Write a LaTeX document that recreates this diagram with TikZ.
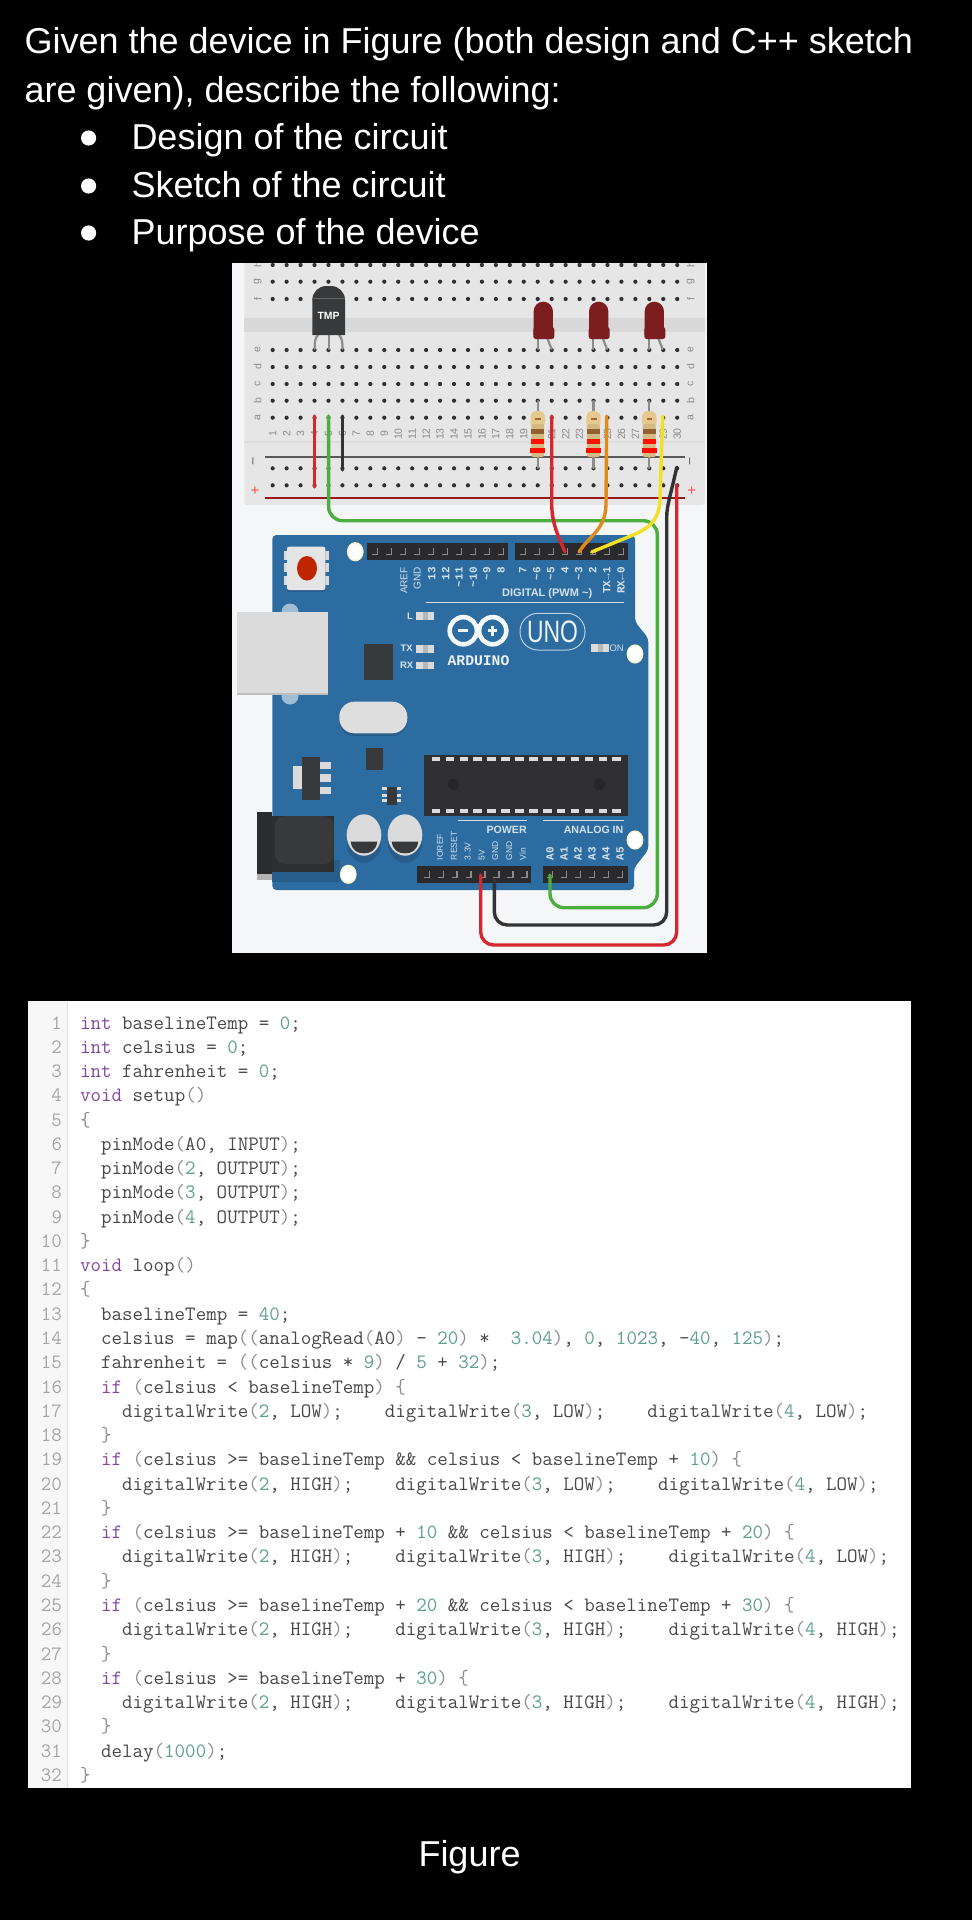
\documentclass[tikz,border=0pt]{standalone}
\usepackage{fontspec}
\setmainfont{Liberation Sans}
\newfontfamily\bdmono{Liberation Mono}
\newcommand\fsz[1]{\fontsize{#1}{#1}\selectfont}
\definecolor{imgbg}{HTML}{F5F6F8}
\definecolor{bbgray}{HTML}{E6E6E6}
\definecolor{bbgroove}{HTML}{D8D8D8}
\definecolor{hole}{HTML}{2F2F2F}
\definecolor{bblab}{HTML}{8A8A8A}
\definecolor{wred}{HTML}{D4272E}
\definecolor{wgreen}{HTML}{4CAE3F}
\definecolor{wblack}{HTML}{333335}
\definecolor{worange}{HTML}{E08A1E}
\definecolor{wyellow}{HTML}{F2E024}
\definecolor{board}{HTML}{2D6CA0}
\definecolor{boarddk}{HTML}{275D8A}
\definecolor{bdtext}{HTML}{D3E1EC}
\definecolor{chip}{HTML}{38393B}
\definecolor{hdr}{HTML}{2A2A2C}
\definecolor{silver}{HTML}{DBDBDB}
\definecolor{ledred}{HTML}{7C1D20}
\definecolor{restan}{HTML}{E6C98E}
\definecolor{codetx}{HTML}{484848}
\definecolor{codekw}{HTML}{85459F}
\definecolor{codenum}{HTML}{5E9E8E}
\definecolor{codegy}{HTML}{8C8C8C}
\definecolor{codeln}{HTML}{A6A6A6}
\definecolor{gutter}{HTML}{F7F7F7}
\newcommand\ckw[1]{{\color{codekw}#1}}
\newcommand\cnum[1]{{\color{codenum}#1}}
\newcommand\gy[1]{{\color{codegy}#1}}
\tikzset{
  x=1pt,y=-1pt,
  every node/.style={inner sep=0pt,outer sep=0pt},
  headline/.style={anchor=base west,text=white,font=\fsz{36}},
  codetext/.style={anchor=base west,text=codetx,font=\ttfamily\fsz{20.4}},
  linenum/.style={anchor=base east,text=codeln,font=\ttfamily\fsz{20.4}},
  bblabel/.style={rotate=90,text=bblab,font=\fsz{10.5}},
  pinlab/.style={rotate=90,anchor=east,text=bdtext,font=\bdmono\bfseries\fsz{11}},
  pinlabthin/.style={rotate=90,anchor=east,text=bdtext,font=\fsz{10}},
  pwrlab/.style={rotate=90,anchor=west,text=bdtext,font=\fsz{8.5}},
  anlab/.style={rotate=90,anchor=west,text=bdtext,font=\bdmono\bfseries\fsz{11}},
  bdhead/.style={text=bdtext,font=\bfseries\fsz{11}},
  wire/.style={line width=3.4pt,line cap=round},
  leg/.style={draw=black!45,line width=2.2pt,line cap=round},
  pinmark/.style={draw=black!45!white,line width=1.3pt},
}
\newcommand\clin[3]{%
  \node[codetext] (line#1) at ({80.2+10.5*#2},{1029+24.27*(#1-1)}) {#3};
  \node[linenum] (num#1) at (62,{1029+24.27*(#1-1)}) {#1};}
\begin{document}
\begin{tikzpicture}
\useasboundingbox (0,0) rectangle (972,1920);
\fill[black] (0,0) rectangle (972,1920);
% heading
\node[headline] (h1) at (24.5,53.7) {Given the device in Figure (both design and C++ sketch};
\node[headline] (h2) at (24.5,102) {are given), describe the following:};
\node[headline] (b1) at (131.5,149) {Design of the circuit};
\node[headline] (b2) at (131.5,197) {Sketch of the circuit};
\node[headline] (b3) at (131.5,244) {Purpose of the device};
\foreach \yy in {138,186,233} \fill[white] (88.6,\yy) circle (7.6);
% circuit picture
\begin{scope}
\clip (232,263) rectangle (707,953);
\fill[imgbg] (232,263) rectangle (707,953);
% breadboard
\fill[bbgray,rounded corners=3] (244.3,250) rectangle (705,505);
\fill[bbgroove] (244.3,318) rectangle (705,332);
\fill[bbgroove!60!bbgray] (244.3,441) rectangle (705,443);
\foreach \yy in {265,281.7,299,350,367,384,400.7,417.7,468.3,485.3}
  \foreach \cc in {0,...,29}
    \fill[hole] ({272.67+13.95*\cc},\yy) circle (2.1);
\foreach \xx in {257.7,690.7}
  \foreach \yy/\tt in {265/h,281.7/g,299/f,350/e,367/d,384/c,400.7/b,417.7/a}
    \node[bblabel] at (\xx,\yy) {\tt};
\foreach \nn in {1,...,30}
  \node[bblabel] (col\nn) at ({272.67+13.95*(\nn-1)},434) {\nn};
\draw[black!65,line width=2pt] (265,457) -- (685,457);
\draw[red!55!black!90,line width=2pt] (265,497.7) -- (685,497.7);
\foreach \xx in {255,691.7} {
  \node[rotate=90,text=black!60,font=\fsz{14}] at (\xx,461) {−};
  \node[text=red!70!white,font=\fsz{15}] at (\xx,491) {+};
}
% TMP sensor
\draw[leg] (318,335) .. controls (315,338) and (314.6,342) .. (314.6,349);
\draw[leg] (328.6,335) -- (328.6,349);
\draw[leg] (339,335) .. controls (342,338) and (342.6,342) .. (342.6,349);
\fill[chip] (312.3,335) [rounded corners=14] -- (312.3,286) -- (345,286) [sharp corners] -- (345,335) -- cycle;
\draw[black!60,line width=.6pt] (312.3,298.3) -- (345,298.3);
\node[text=white,font=\bfseries\fsz{10.5}] (tmp) at (328.6,316) {TMP};
% LEDs
\foreach \cx in {543.3,598.7,654.3} {
  \begin{scope}[shift={(\cx,0)}]
  \draw[leg] (-5.6,337) -- (-5.6,349);
  \draw[leg] (3.5,337) -- (8.3,349);
  \fill[ledred] (-9.6,335) [rounded corners=9.5] -- (-9.6,301.7) -- (9.6,301.7) [sharp corners] -- (9.6,335) -- cycle;
  \fill[ledred,rounded corners=2.5] (-10,327) rectangle (11,339);
  \end{scope}
}
% resistors
\foreach \cx in {537.7,593.5,649.3} {
  \begin{scope}[shift={(\cx,0)}]
  \draw[leg] (0,401) -- (0,468);
  \fill[restan,rounded corners=6] (-7.2,411) rectangle (7.2,428);
  \fill[restan!92!black,rounded corners=2] (-6.4,424) rectangle (6.4,457);
  \fill[brown!80!black!90!orange] (-2.5,418.2) rectangle (3,420);
  \fill[brown!75!black] (-6.4,429.3) rectangle (6.4,434.3);
  \fill[red!85!orange] (-6.4,438.5) rectangle (6.4,443.5);
  \fill[red!90!orange] (-7.4,447.5) rectangle (7.4,452.7);
  \end{scope}
}
% named wire ends
\coordinate (c4a) at (314.5,416);
\coordinate (c4p) at (314.5,487);
\coordinate (c5a) at (328.6,416);
\coordinate (c6a) at (342.7,416);
\coordinate (c6m) at (342.7,470);
\coordinate (c21a) at (551.7,416);
\coordinate (c25a) at (606.7,416);
\coordinate (c29a) at (662.7,416);
\coordinate (railm) at (676.7,467.3);
\coordinate (railp) at (676.7,485);
\coordinate (pin4) at (565,552);
\coordinate (pin3) at (579,552);
\coordinate (pin2) at (591.7,552);
\coordinate (pinA0) at (550,875);
\coordinate (pinGND) at (494.3,880);
\coordinate (pin5V) at (480.7,875);
% Arduino board
\fill[board,rounded corners=4] (272.3,535) -- (635,535) -- (635,621.7) -- (648.3,638.3) -- (648.3,850) -- (634,868) -- (634,890) -- (272.3,890) -- cycle;
\foreach \xx/\yy in {290/612,290/696}
  \fill[board!45!white] (\xx,\yy) circle (8.5);
% reset button
\fill[silver] (283.5,551) rectangle (328.5,560);
\fill[silver] (283.5,563) rectangle (328.5,572);
\fill[silver] (283.5,576) rectangle (328.5,585);
\fill[boarddk,rounded corners=2] (287,549) rectangle (325.3,592);
\fill[black!10,rounded corners=2] (287,546.7) rectangle (325.3,590);
\fill[orange!40!red!75!black] (307,568.3) ellipse (10 and 12.3);
% mounting holes
\foreach \xx/\yy in {355.3/551.7,635/654,635/840,348.3/874.3} {
  \fill[black!10!yellow!20!white] (\xx,\yy) ellipse (8.4 and 9.6);
  \fill[white] (\xx,\yy) ellipse (6.8 and 8);
}
% headers
\fill[hdr] (367,543.3) rectangle (508.3,560);
\fill[hdr] (515,543.3) rectangle (628.3,560);
\fill[hdr] (417.3,866) rectangle (530.7,882.7);
\fill[hdr] (542.7,866) rectangle (628,882.7);
\foreach \kk in {0,...,9} \draw[pinmark] ({375.2+13.95*\kk-3},554.8) -- ({375.2+13.95*\kk+2.5},554.8) -- ({375.2+13.95*\kk+2.5},548);
\foreach \kk in {0,...,7} \draw[pinmark] ({523.3+13.95*\kk-3},554.8) -- ({523.3+13.95*\kk+2.5},554.8) -- ({523.3+13.95*\kk+2.5},548);
\foreach \kk in {0,...,7} \draw[pinmark] ({426.7+13.95*\kk-3},877.5) -- ({426.7+13.95*\kk+2.5},877.5) -- ({426.7+13.95*\kk+2.5},871);
\foreach \kk in {0,...,5} \draw[pinmark] ({550+13.95*\kk-3},877.5) -- ({550+13.95*\kk+2.5},877.5) -- ({550+13.95*\kk+2.5},871);
% digital labels
\foreach \xx/\tt [count=\ii] in {404/AREF,417.3/GND} \node[pinlabthin] (dl\ii) at (\xx,567.3) {\tt};
\foreach \xx/\tt [count=\ii] in {431.7/13,445.7/12,459/\textasciitilde 11,473.3/\textasciitilde 10,486.7/\textasciitilde 9,501/8,522.7/7,536.7/\textasciitilde 6,550.7/\textasciitilde 5,565/4,578.7/\textasciitilde 3,592.7/2,606.7/TX→1,621/RX←0}
  \node[pinlab] (dp\ii) at (\xx,567.3) {\tt};
\node[bdhead] (digital) at (547.2,593.3) {DIGITAL (PWM \textasciitilde)};
\draw[bdtext,line width=1.4pt] (425.7,602.7) -- (624,602.7);
% status LEDs
\foreach \yy/\tt/\xx in {616.2/L/410,648.7/TX/406.7,665.5/RX/406.7}
  \node[text=bdtext,font=\bfseries\fsz{9.5}] at (\xx,\yy) {\tt};
\foreach \xx/\yy in {425.2/616.2,425.2/648.7,425.2/665.5,600/648.3} {
  \fill[silver] ({\xx-9.2},{\yy-3.9}) rectangle ({\xx+9.2},{\yy+3.9});
  \fill[black!28] ({\xx-2.5},{\yy-3.9}) rectangle ({\xx+2.5},{\yy+3.9});
}
\node[text=bdtext,font=\fsz{9.5}] (onlab) at (616.7,648.3) {ON};
% logo
\draw[white!95!board,line width=4.6pt] (463.3,630.7) circle (13.6);
\draw[white!95!board,line width=4.6pt] (492.7,630.7) circle (13.6);
\fill[white!95!board] (458.3,629.3) rectangle (467.5,632.3);
\fill[white!95!board] (488,629.3) rectangle (497.4,632.3);
\fill[white!95!board] (491.2,626) rectangle (494.2,635.6);
\node[text=white!90!board,font=\bdmono\bfseries\fsz{14.7}] (arduino) at (478.5,660.7) {ARDUINO};
\draw[bdtext!85!board,line width=1pt,rounded corners=18] (520,613.3) rectangle (585,650);
\node[text=white!92!board,font=\fsz{31}] (uno) at (552.5,631.5) {\scalebox{.74}[1]{UNO}};
% ICs
\fill[chip] (364,644.3) rectangle (393.3,680);
\fill[chip] (365.7,748.3) rectangle (383.3,770);
\foreach \yy in {788,795,800.7} {\fill[silver] (382.3,{\yy-1.5}) rectangle (401,{\yy+1.5});}
\fill[chip] (386.7,786.7) rectangle (396.7,805);
% crystal
\fill[boarddk,rounded corners=15] (339.3,705) rectangle (407.3,736);
\fill[silver!92!white,rounded corners=15] (339.3,701.7) rectangle (407.3,733.3);
% regulator
\fill[silver] (292.7,766) rectangle (301.7,789.3);
\foreach \yy in {761.7,774.3,786.7} \fill[silver] (320,\yy) rectangle (330.7,{\yy+7.5});
\fill[chip] (301.7,756.7) rectangle (320,800);
% USB
\fill[black!25] (236.7,611.7) rectangle (327.7,694.5);
\fill[black!14] (236.7,611.7) rectangle (327.7,692.5);
% chip
\fill[chip!85!black] (424,755) rectangle (628.3,816);
\foreach \kk in {0,...,13} {
  \fill[silver] ({436+13.9*\kk-4.3},757.2) rectangle ({436+13.9*\kk+4.3},760.8);
  \fill[silver] ({436+13.9*\kk-4.3},809.2) rectangle ({436+13.9*\kk+4.3},812.8);
}
\fill[black!85] (453.3,784.3) circle (5.8);
\fill[black!85] (599.3,784.3) circle (5.8);
\draw[bdtext,line width=1.4pt] (458.3,820.7) -- (527.3,820.7);
\draw[bdtext,line width=1.4pt] (542.7,820.7) -- (624,820.7);
\node[bdhead,anchor=east,font=\bfseries\fsz{10.6}] (power) at (526.7,830) {POWER};
\node[bdhead,anchor=east,font=\bfseries\fsz{10.6}] (analog) at (623.3,830) {ANALOG IN};
\foreach \xx/\tt [count=\ii] in {440/IOREF,454/RESET,467.7/3.3V,481.7/5V,495.3/GND,509.3/GND,522.7/Vin}
  \node[pwrlab] (pw\ii) at (\xx,860) {\tt};
\foreach \xx/\tt [count=\ii] in {550/A0,564/A1,578/A2,592/A3,606/A4,620/A5}
  \node[anlab] (an\ii) at (\xx,860) {\tt};
% capacitors
\foreach \cx in {364,405} {
  \begin{scope}[shift={(\cx,835)}]
  \fill[boarddk] (0,7) ellipse (17.3 and 20.7);
  \fill[silver] (0,0) ellipse (17.3 and 20.7);
  \fill[chip] (-13.3,6.7) .. controls (-12,16) and (-6,18.3) .. (0,18.3) .. controls (6,18.3) and (12,16) .. (13.3,6.7) -- cycle;
  \end{scope}
}
% DC jack
\fill[boarddk] (271.7,860) rectangle (340,882);
\fill[black!30] (257.3,870) rectangle (271.7,880);
\fill[chip!75!black] (257.3,811.7) rectangle (271.7,874);
\fill[chip!80!black] (271.7,815.7) rectangle (334,871.7);
\fill[chip,rounded corners=10] (275,816) rectangle (334,864);
% wires
\draw[wire,wgreen,rounded corners=14] (c5a) -- (328.6,520.7) -- (657.3,520.7) -- (657.3,907.7) -- (550,907.7) -- (pinA0);
\draw[wire,wblack,rounded corners=13] (railm) .. controls (672,490) and (666.7,505) .. (666.7,530) -- (666.7,925) -- (494.3,925) -- (pinGND);
\draw[wire,wred,rounded corners=13] (railp) -- (676.7,945) -- (480.7,945) -- (pin5V);
\draw[wire,wred] (c4a) -- (c4p);
\draw[wire,wblack] (c6a) -- (c6m);
\draw[wire,wred] (c21a) -- (551.7,505) .. controls (552,525) and (560,540) .. (pin4);
\draw[wire,worange] (c25a) -- (606,505) .. controls (605,530) and (590,535) .. (pin3);
\draw[wire,wyellow] (c29a) -- (660,500) .. controls (659,518) and (652,527) .. (633,535) -- (pin2);
\end{scope}
% code panel
\fill[white] (28,1001) rectangle (910.5,1788);
\fill[gutter] (28,1001) rectangle (67.7,1788);
\draw[black!12,line width=.8pt] (67.7,1001) -- (67.7,1788);
\clin{1}{0}{\ckw{int} baselineTemp = \cnum{0};}
\clin{2}{0}{\ckw{int} celsius = \cnum{0};}
\clin{3}{0}{\ckw{int} fahrenheit = \cnum{0};}
\clin{4}{0}{\ckw{void} setup\gy{()}}
\clin{5}{0}{\gy{\{}}
\clin{6}{2}{pinMode\gy{(}A0, INPUT\gy{)};}
\clin{7}{2}{pinMode\gy{(}\cnum{2}, OUTPUT\gy{)};}
\clin{8}{2}{pinMode\gy{(}\cnum{3}, OUTPUT\gy{)};}
\clin{9}{2}{pinMode\gy{(}\cnum{4}, OUTPUT\gy{)};}
\clin{10}{0}{\gy{\}}}
\clin{11}{0}{\ckw{void} loop\gy{()}}
\clin{12}{0}{\gy{\{}}
\clin{13}{2}{baselineTemp = \cnum{40};}
\clin{14}{2}{celsius = map\gy{((}analogRead\gy{(}A0\gy{)} - \cnum{20}\gy{)} *~~\cnum{3.04}\gy{)}, \cnum{0}, \cnum{1023}, -\cnum{40}, \cnum{125}\gy{)};}
\clin{15}{2}{fahrenheit = \gy{((}celsius * \cnum{9}\gy{)} / \cnum{5} + \cnum{32}\gy{)};}
\clin{16}{2}{\ckw{if} \gy{(}celsius < baselineTemp\gy{)} \gy{\{}}
\clin{17}{4}{digitalWrite\gy{(}\cnum{2}, LOW\gy{)};~~~~digitalWrite\gy{(}\cnum{3}, LOW\gy{)};~~~~digitalWrite\gy{(}\cnum{4}, LOW\gy{)};}
\clin{18}{2}{\gy{\}}}
\clin{19}{2}{\ckw{if} \gy{(}celsius >= baselineTemp \&\& celsius < baselineTemp + \cnum{10}\gy{)} \gy{\{}}
\clin{20}{4}{digitalWrite\gy{(}\cnum{2}, HIGH\gy{)};~~~~digitalWrite\gy{(}\cnum{3}, LOW\gy{)};~~~~digitalWrite\gy{(}\cnum{4}, LOW\gy{)};}
\clin{21}{2}{\gy{\}}}
\clin{22}{2}{\ckw{if} \gy{(}celsius >= baselineTemp + \cnum{10} \&\& celsius < baselineTemp + \cnum{20}\gy{)} \gy{\{}}
\clin{23}{4}{digitalWrite\gy{(}\cnum{2}, HIGH\gy{)};~~~~digitalWrite\gy{(}\cnum{3}, HIGH\gy{)};~~~~digitalWrite\gy{(}\cnum{4}, LOW\gy{)};}
\clin{24}{2}{\gy{\}}}
\clin{25}{2}{\ckw{if} \gy{(}celsius >= baselineTemp + \cnum{20} \&\& celsius < baselineTemp + \cnum{30}\gy{)} \gy{\{}}
\clin{26}{4}{digitalWrite\gy{(}\cnum{2}, HIGH\gy{)};~~~~digitalWrite\gy{(}\cnum{3}, HIGH\gy{)};~~~~digitalWrite\gy{(}\cnum{4}, HIGH\gy{)};}
\clin{27}{2}{\gy{\}}}
\clin{28}{2}{\ckw{if} \gy{(}celsius >= baselineTemp + \cnum{30}\gy{)} \gy{\{}}
\clin{29}{4}{digitalWrite\gy{(}\cnum{2}, HIGH\gy{)};~~~~digitalWrite\gy{(}\cnum{3}, HIGH\gy{)};~~~~digitalWrite\gy{(}\cnum{4}, HIGH\gy{)};}
\clin{30}{2}{\gy{\}}}
\clin{31}{2}{delay\gy{(}\cnum{1000}\gy{)};}
\clin{32}{0}{\gy{\}}}
% caption
\node[headline] (figure) at (418.5,1866) {Figure};
\end{tikzpicture}
\end{document}
